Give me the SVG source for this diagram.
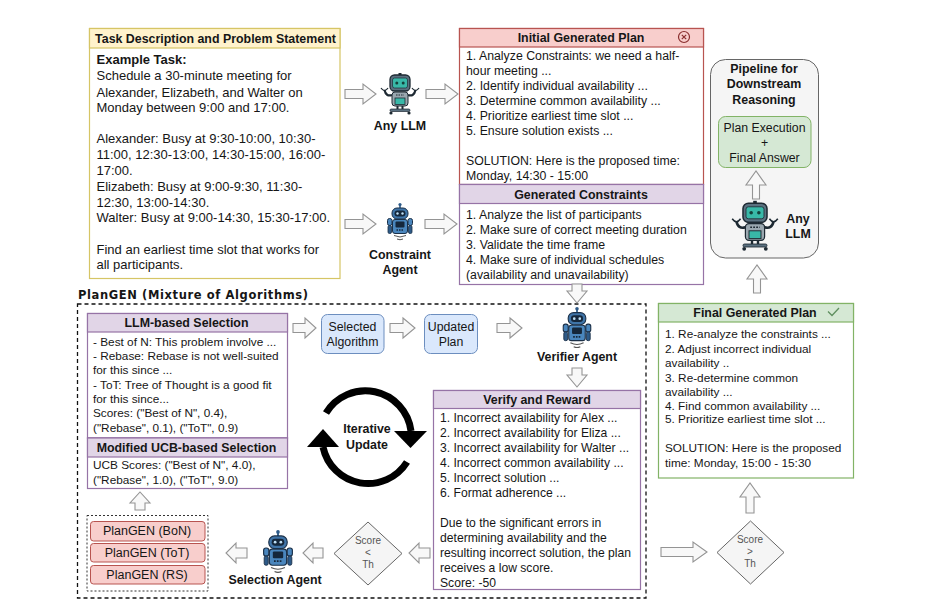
<svg xmlns="http://www.w3.org/2000/svg" width="948" height="615" viewBox="0 0 948 615">
<defs>
<style>
text{font-family:"Liberation Sans",Arial,sans-serif;fill:#161616}
.b{font-size:12.3px}
.t{font-size:13px}
.m{font-size:11.8px}
.h{font-size:12.4px;font-weight:bold;text-anchor:middle}
.l{font-size:12.4px;font-weight:bold;text-anchor:middle}
.c{font-size:12.3px;text-anchor:middle}
.v{font-size:12.5px;text-anchor:middle}
.s{font-size:10px;text-anchor:middle;fill:#555}
.ar path{fill:#f8f8f8;stroke:#949494;stroke-width:1.1}
.ol{fill:#fff}
.purple{stroke:#9673a6;stroke-width:1.2}
</style>
<g id="agent">
<circle cx="0" cy="-17.500" r="1.600" fill="#2d5a88"/><rect x="-.8" y="-17" width="1.600" height="3.500" fill="#2d5a88"/>
<rect x="-8" y="-14" width="16" height="11" rx="5" fill="#3f74a8" stroke="#1b3048"/>
<rect x="-5.500" y="-11.500" width="11" height="6" rx="3" fill="#15273b"/>
<circle cx="-2.500" cy="-8.500" r="1.200" fill="#bfe0f5"/><circle cx="2.500" cy="-8.500" r="1.200" fill="#bfe0f5"/>
<rect x="-7.500" y="-2.500" width="15" height="14" rx="2.500" fill="#4a86bd" stroke="#1b3048"/>
<rect x="-4.500" y="-.5" width="9" height="6" rx="1" fill="#15273b"/>
<path d="M-3.500 8H3.500" stroke="#15273b" stroke-width="1.500" stroke-dasharray="1.500 1"/>
<rect x="-12.500" y="-3.500" width="4.500" height="7" rx="2" fill="#4a86bd" stroke="#1b3048"/>
<rect x="8" y="-3.500" width="4.500" height="7" rx="2" fill="#4a86bd" stroke="#1b3048"/>
<rect x="-12" y="3.500" width="3.500" height="8" rx="1.500" fill="#2d5a88" stroke="#1b3048" stroke-width=".8"/>
<rect x="8.500" y="3.500" width="3.500" height="8" rx="1.500" fill="#2d5a88" stroke="#1b3048" stroke-width=".8"/>
<path d="M-6 13.500Q0 16.500 6 13.500M-3 17Q0 18.500 3 17" fill="none" stroke="#555" stroke-width="1"/>
</g>
<g id="llm">
<rect x="-1.500" y="-21" width="3" height="3" fill="#1e2a33"/>
<rect x="-10" y="-19" width="20" height="16" rx="4.500" fill="#5b7180" stroke="#1e2a33" stroke-width="1.300"/>
<rect x="-7.500" y="-16" width="15" height="10" rx="2" fill="#38b8a8" stroke="#1e2a33" stroke-width=".7"/>
<circle cx="-3.200" cy="-11" r="1.500" fill="#14403b"/><circle cx="3.200" cy="-11" r="1.500" fill="#14403b"/>
<path d="M-8 1Q-14 3-15.500-4M8 1Q14 3 15.500-4" fill="none" stroke="#1e2a33" stroke-width="2.200"/>
<path d="M-19-6Q-15.500-1-12-6M12-6Q15.500-1 19-6" fill="none" stroke="#1e2a33" stroke-width="1.300"/>
<rect x="-8" y="-2" width="16" height="14" rx="3" fill="#9aa7af" stroke="#1e2a33"/>
<path d="M-4 1H4" stroke="#1e2a33" stroke-width="1.200" stroke-dasharray="1.500 1"/>
<rect x="-5" y="4" width="10" height="6.500" fill="#38b8a8" stroke="#1e2a33" stroke-width=".8"/>
<path d="M-2.500 12V15M2.500 12V15" stroke="#1e2a33" stroke-width="2"/>
<rect x="-10" y="15" width="20" height="2.500" rx="1.200" fill="#5b7180" stroke="#1e2a33" stroke-width=".7"/>
<circle cx="-9" cy="19" r="1.600" fill="#1e2a33"/><circle cx="9" cy="19" r="1.600" fill="#1e2a33"/>
</g>
</defs>
<rect width="948" height="615" fill="#fff"/>

<g id="task">
<rect x="89.500" y="28.500" width="250.500" height="250" fill="#fff" stroke="#d6c565" stroke-width="1.200"/>
<rect x="89.500" y="28.500" width="250.500" height="19.500" fill="#fff2cc" stroke="#d6c565" stroke-width="1.200"/>
<text class="h" x="215.500" y="42.500">Task Description and Problem Statement</text>
<text x="96.500" y="64" font-weight="bold" class="t">Example Task:</text>
<g class="t">
<text x="96.500" y="80">Schedule a 30-minute meeting for</text>
<text x="96.500" y="97">Alexander, Elizabeth, and Walter on</text>
<text x="96.500" y="112">Monday between 9:00 and 17:00.</text>
<text x="96.500" y="143">Alexander: Busy at 9:30-10:00, 10:30-</text>
<text x="96.500" y="159">11:00, 12:30-13:00, 14:30-15:00, 16:00-</text>
<text x="96.500" y="175">17:00.</text>
<text x="96.500" y="191">Elizabeth: Busy at 9:00-9:30, 11:30-</text>
<text x="96.500" y="207">12:30, 13:00-14:30.</text>
<text x="96.500" y="222">Walter: Busy at 9:00-14:30, 15:30-17:00.</text>
<text x="96.500" y="254">Find an earliest time slot that works for</text>
<text x="96.500" y="269">all participants.</text>
</g>
</g>

<g id="initial-plan">
<rect x="459.500" y="28.500" width="244" height="156" fill="#fff" stroke="#b85450" stroke-width="1.200"/>
<rect x="459.500" y="28.500" width="244" height="18.500" fill="#f8cecc" stroke="#b85450" stroke-width="1.200"/>
<text class="h" x="581" y="42">Initial Generated Plan</text>
<circle cx="684" cy="37" r="5.500" fill="none" stroke="#8b2f2f" stroke-width="1.200"/>
<path d="M681.800 34.800L686.200 39.200M686.200 34.800L681.800 39.200" stroke="#8b2f2f" stroke-width="1.200"/>
<g class="b">
<text x="466" y="60">1. Analyze Constraints: we need a half-</text>
<text x="466" y="75">hour meeting ...</text>
<text x="466" y="90">2. Identify individual availability ...</text>
<text x="466" y="105">3. Determine common availability ...</text>
<text x="466" y="120">4. Prioritize earliest time slot ...</text>
<text x="466" y="135">5. Ensure solution exists ...</text>
<text x="466" y="165">SOLUTION: Here is the proposed time:</text>
<text x="466" y="180">Monday, 14:30 - 15:00</text>
</g>
</g>

<g id="constraints">
<rect x="459.500" y="184.500" width="244" height="100" fill="#fff" class="purple"/>
<rect x="459.500" y="184.500" width="244" height="19" fill="#e1d5e7" class="purple"/>
<text class="h" x="581" y="199">Generated Constraints</text>
<g class="b">
<text x="466" y="219">1. Analyze the list of participants</text>
<text x="466" y="234">2. Make sure of correct meeting duration</text>
<text x="466" y="249">3. Validate the time frame</text>
<text x="466" y="264">4. Make sure of individual schedules</text>
<text x="466" y="279">(availability and unavailability)</text>
</g>
</g>

<g id="any-llm-top">
<use href="#llm" x="400" y="94"/>
<text class="l" x="400" y="130">Any LLM</text>
</g>
<g id="constraint-agent">
<use href="#agent" x="400" y="222"/>
<text class="l" x="400" y="259">Constraint</text>
<text class="l" x="400" y="274">Agent</text>
</g>

<g id="pipeline">
<rect x="710.500" y="59.500" width="108" height="198.500" rx="15" fill="#f5f5f5" stroke="#666"/>
<text class="h" x="764" y="73">Pipeline for</text>
<text class="h" x="764" y="88">Downstream</text>
<text class="h" x="764" y="104">Reasoning</text>
<rect x="718.500" y="116.500" width="92.500" height="51" rx="7" fill="#d5e8d4" stroke="#82b366"/>
<text class="c" x="764.500" y="132">Plan Execution</text>
<text class="c" x="764.500" y="147">+</text>
<text class="c" x="764.500" y="162">Final Answer</text>
<use href="#llm" transform="translate(755,226) scale(1.2)"/>
<text class="l" x="798" y="223">Any</text>
<text class="l" x="798" y="238">LLM</text>
</g>

<g id="final-plan">
<rect x="658.500" y="303.500" width="195" height="174.500" fill="#fff" stroke="#82b366" stroke-width="1.200"/>
<rect x="658.500" y="303.500" width="195" height="18.500" fill="#d5e8d4" stroke="#82b366" stroke-width="1.200"/>
<text class="h" x="755" y="317">Final Generated Plan</text>
<path d="M828 311.500L832 315.500L839 308" fill="none" stroke="#5f8f5f" stroke-width="1.300"/>
<g class="m">
<text x="665" y="338">1. Re-analyze the constraints ...</text>
<text x="665" y="353">2. Adjust incorrect individual</text>
<text x="665" y="367">availability ..</text>
<text x="665" y="382">3. Re-determine common</text>
<text x="665" y="396">availability ...</text>
<text x="665" y="410">4. Find common availability ...</text>
<text x="665" y="423">5. Prioritize earliest time slot ...</text>
<text x="665" y="452">SOLUTION: Here is the proposed</text>
<text x="665" y="467">time: Monday, 15:00 - 15:30</text>
</g>
</g>

<text x="78" y="299" style="font-family:'DejaVu Sans',sans-serif;font-size:11.500px;font-weight:bold" textLength="230">PlanGEN (Mixture of Algorithms)</text>
<rect id="plangen-frame" x="77.500" y="304" width="568.500" height="294" fill="none" stroke="#111" stroke-width="1.300" stroke-dasharray="4 3"/>

<g id="llm-selection">
<rect x="87.500" y="313.500" width="200" height="124.500" fill="#fff" class="purple"/>
<rect x="87.500" y="313.500" width="200" height="18.500" fill="#e1d5e7" class="purple"/>
<text class="h" x="186.500" y="327">LLM-based Selection</text>
<g class="m">
<text x="93" y="346">- Best of N: This problem involve ...</text>
<text x="93" y="360">- Rebase: Rebase is not well-suited</text>
<text x="93" y="374">for this since ...</text>
<text x="93" y="388.500">- ToT: Tree of Thought is a good fit</text>
<text x="93" y="403">for this since...</text>
<text x="93" y="417">Scores: ("Best of N", 0.4),</text>
<text x="93" y="432">("Rebase", 0.1), ("ToT", 0.9)</text>
</g>
</g>
<g id="ucb-selection">
<rect x="87.500" y="438" width="200" height="50.500" fill="#fff" class="purple"/>
<rect x="87.500" y="438" width="200" height="19" fill="#e1d5e7" class="purple"/>
<text class="h" x="186.500" y="452">Modified UCB-based Selection</text>
<text x="93" y="469" class="m">UCB Scores: ("Best of N", 4.0),</text>
<text x="93" y="484" class="m">("Rebase", 1.0), ("ToT", 9.0)</text>
</g>

<g id="selected-algorithm">
<rect x="321.500" y="314.500" width="62.500" height="39" rx="6" fill="#dae8fc" stroke="#6c8ebf"/>
<text class="c" x="352.500" y="331">Selected</text>
<text class="c" x="352.500" y="346">Algorithm</text>
</g>
<g id="updated-plan">
<rect x="424.500" y="314.500" width="53" height="39" rx="6" fill="#dae8fc" stroke="#6c8ebf"/>
<text class="c" x="451" y="331">Updated</text>
<text class="c" x="451" y="346">Plan</text>
</g>
<g id="verifier-agent">
<use href="#agent" transform="translate(577,328) scale(1.100)"/>
<text class="l" x="577" y="361">Verifier Agent</text>
</g>

<g id="verify-reward">
<rect x="433.500" y="390.500" width="207" height="199" fill="#fff" class="purple"/>
<rect x="433.500" y="390.500" width="207" height="18" fill="#e1d5e7" class="purple"/>
<text class="h" x="537" y="404">Verify and Reward</text>
<g class="b" style="font-size:12.150px">
<text x="440" y="422">1. Incorrect availability for Alex ...</text>
<text x="440" y="437">2. Incorrect availability for Eliza ...</text>
<text x="440" y="452">3. Incorrect availability for Walter ...</text>
<text x="440" y="467">4. Incorrect common availability ...</text>
<text x="440" y="482">5. Incorrect solution ...</text>
<text x="440" y="497">6. Format adherence ...</text>
<text x="440" y="527">Due to the significant errors in</text>
<text x="440" y="542">determining availability and the</text>
<text x="440" y="557">resulting incorrect solution, the plan</text>
<text x="440" y="572">receives a low score.</text>
<text x="440" y="587">Score: -50</text>
</g>
</g>

<g id="iterative-update">
<path d="M326 413A46 46 0 0 1 411 431" fill="none" stroke="#000" stroke-width="7"/>
<path d="M394 431H427L410.500 448Z" fill="#000"/>
<path d="M407 462A46 46 0 0 1 323 447" fill="none" stroke="#000" stroke-width="7"/>
<path d="M307 447H339L323 429Z" fill="#000"/>
<text class="l" x="367" y="433">Iterative</text>
<text class="l" x="367" y="449">Update</text>
</g>

<g id="plangen-variants">
<rect x="87" y="515.500" width="121" height="75.500" fill="none" stroke="#333" stroke-dasharray="2 2"/>
<rect x="90.500" y="521.500" width="114.500" height="19.500" rx="3" fill="#f8cecc" stroke="#b85450"/>
<text class="v" x="147" y="535">PlanGEN (BoN)</text>
<rect x="90.500" y="543.500" width="114.500" height="18.500" rx="3" fill="#f8cecc" stroke="#b85450"/>
<text class="v" x="147" y="557">PlanGEN (ToT)</text>
<rect x="90.500" y="565.500" width="114.500" height="18.500" rx="3" fill="#f8cecc" stroke="#b85450"/>
<text class="v" x="147" y="579">PlanGEN (RS)</text>
</g>
<g id="selection-agent">
<use href="#agent" transform="translate(278,552) scale(1.150)"/>
<text class="l" x="275" y="584">Selection Agent</text>
</g>
<g id="score-lt">
<path d="M368 522L402 553.500L368 585L334 553.500Z" fill="#f5f5f5" stroke="#666"/>
<text class="s" x="368" y="544">Score</text>
<text class="s" x="368" y="556">&lt;</text>
<text class="s" x="368" y="568">Th</text>
</g>
<g id="score-gt">
<path d="M750.500 521L784 552.500L750.500 584L717 552.500Z" fill="#f5f5f5" stroke="#666"/>
<text class="s" x="750" y="543">Score</text>
<text class="s" x="750" y="555">&gt;</text>
<text class="s" x="750" y="567">Th</text>
</g>

<g id="connectors" class="ar">
<path d="M345 89.500H363V84L376 94L363 104V98.500H345Z"/>
<path d="M426 89.500H445V84L458 94L445 104V98.500H426Z"/>
<path d="M345 219.500H363V214L376 224L363 234V228.500H345Z"/>
<path d="M425 219.500H444V214L457 224L444 234V228.500H425Z"/>
<path d="M293 323.500H305V318L316 328L305 338V332.500H293Z"/>
<path d="M390 323.500H403V318L415 328L403 338V332.500H390Z"/>
<path d="M497 323.500H510V318L522 328L510 338V332.500H497Z"/>
<path d="M572 284H582V291H587L577 303L567 291H572Z"/>
<path d="M572 368H582V375H587L577 387L567 375H572Z"/>
<path d="M752.500 199V185H746L756 171L766 185H759.500V199Z"/>
<path d="M753.500 293V279H747L757 265L767 279H760.500V293Z"/>
<path d="M746 513V497H740L750 483L760 497H754V513Z"/>
<path d="M661 547.500H693V542L707 552L693 562V556.500H661Z"/>
<path d="M247 548H236V543L226 553L236 563V558H247Z"/>
<path d="M323 548H313V543L303 553L313 563V558H323Z"/>
<path d="M430 548H419V543L409 553L419 563V558H430Z"/>
<path d="M135 510V503H130L140 492L150 503H145V510Z"/>
</g>
</svg>
